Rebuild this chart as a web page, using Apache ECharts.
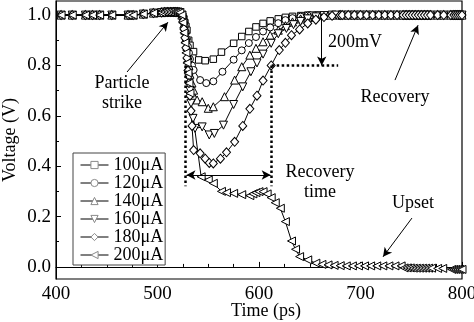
<!DOCTYPE html>
<html>
<head>
<meta charset="utf-8">
<script src="https://cdn.jsdelivr.net/npm/echarts@6/dist/echarts.min.js"></script>
<style>
html,body{margin:0;padding:0;background:#fff}
#chart{width:474px;height:322px}
</style>
</head>
<body>
<div id="chart"></div>
<script>
// Output voltage after a particle strike, for several injected currents.
const seriesNames = ['100μA', '120μA', '140μA', '160μA', '180μA', '200μA'];
const xTicks = [400, 500, 600, 700, 800];
const yTicks = [0.0, 0.2, 0.4, 0.6, 0.8, 1.0];
const yMinorTicks = [0.1, 0.3, 0.5, 0.7, 0.9];

// flat segment before the strike (same for every current)
const tPre = [405, 416, 429, 436, 443, 455, 471, 476, 486, 496, 504, 507, 510, 513, 516, 518, 520, 522];
const vPre = [1.0, 1.0, 1.0, 1.0, 1.0, 1.0, 1.0, 1.0, 1.004, 1.008, 1.01, 1.012, 1.012, 1.012, 1.012, 1.012, 1.012, 1.01];

// transients
const t100 = [524, 525, 526, 527, 528, 529, 530.7, 532, 535.5, 540.6, 547, 555, 563, 575, 583, 590, 597, 604, 611, 619, 626, 633, 641, 648];
const v100 = [1.0, 0.995, 0.985, 0.97, 0.955, 0.94, 0.90, 0.88, 0.855, 0.822, 0.819, 0.825, 0.853, 0.888, 0.915, 0.935, 0.953, 0.967, 0.977, 0.985, 0.991, 0.995, 0.998, 1.0];

const t120 = [524, 525, 526, 527, 528, 529, 530, 531, 532, 534, 535.6, 542, 548, 555, 564, 575, 583, 590, 597, 604, 611, 619, 626, 633, 641, 648, 656];
const v120 = [1.0, 0.99, 0.975, 0.955, 0.93, 0.905, 0.875, 0.85, 0.825, 0.80, 0.782, 0.742, 0.73, 0.737, 0.775, 0.823, 0.86, 0.889, 0.913, 0.935, 0.951, 0.968, 0.98, 0.988, 0.994, 0.998, 1.0];

const t140 = [524, 525, 526, 527, 528, 529, 530, 531, 532, 534, 535.6, 539, 544, 550, 555, 566, 576, 583, 591, 597, 604, 611, 619, 626, 633, 641, 648, 656, 664];
const v140 = [1.0, 0.985, 0.965, 0.94, 0.91, 0.875, 0.84, 0.80, 0.765, 0.73, 0.702, 0.663, 0.656, 0.63, 0.636, 0.676, 0.742, 0.795, 0.841, 0.868, 0.894, 0.92, 0.94, 0.958, 0.973, 0.985, 0.992, 0.997, 1.0];

const t160 = [524, 525, 526, 527, 528, 529, 530, 531, 532, 533, 535, 537, 544, 551, 556, 565, 575, 584, 592, 598, 604, 612, 619, 627, 634, 641, 648, 656, 664, 672];
const v160 = [1.0, 0.98, 0.955, 0.925, 0.89, 0.85, 0.80, 0.75, 0.70, 0.65, 0.59, 0.55, 0.556, 0.524, 0.53, 0.563, 0.645, 0.715, 0.775, 0.81, 0.845, 0.888, 0.926, 0.947, 0.962, 0.975, 0.985, 0.993, 0.998, 1.0];

const t180 = [524, 525, 526, 527, 528, 529, 530, 531, 532, 533, 534, 535.6, 542, 547, 551, 555, 562, 568, 576, 584, 591, 598, 604, 612, 620, 626, 632, 640, 648, 656, 664, 672, 680];
const v180 = [1.0, 0.975, 0.945, 0.91, 0.87, 0.83, 0.78, 0.73, 0.68, 0.62, 0.56, 0.464, 0.451, 0.43, 0.413, 0.411, 0.43, 0.455, 0.497, 0.56, 0.628, 0.68, 0.74, 0.80, 0.861, 0.89, 0.92, 0.943, 0.967, 0.982, 0.992, 0.997, 1.0];

const t200 = [524, 525, 526, 527, 528, 529, 530, 531, 532, 543, 550, 555, 563, 568, 575, 583, 591, 594, 597, 600, 604, 608, 612, 616, 621, 626, 632, 636, 640, 648, 656, 662, 668, 674, 680, 686, 692, 698, 704, 710, 716, 722, 728, 734, 740, 743, 746, 749, 752, 755, 758, 761, 764, 767, 770, 776, 781, 790, 792, 794, 796, 798, 800];
const v200 = [1.0, 0.97, 0.93, 0.89, 0.85, 0.81, 0.77, 0.73, 0.69, 0.358, 0.345, 0.332, 0.30, 0.295, 0.292, 0.287, 0.283, 0.29, 0.295, 0.299, 0.299, 0.29, 0.275, 0.255, 0.233, 0.18, 0.103, 0.07, 0.041, 0.028, 0.015, 0.01, 0.008, 0.006, 0.005, 0.004, 0.004, 0.004, 0.004, 0.004, 0.004, 0.004, 0.004, 0.004, 0.004, -0.004, -0.004, -0.004, -0.005, -0.005, -0.005, -0.005, -0.005, -0.005, -0.005, -0.006, -0.006, -0.01, -0.01, -0.01, -0.01, -0.01, -0.01];

// recovered level after the transient
const tTail = [652, 658, 664, 670, 676, 682, 688, 694, 700, 706, 712, 718, 724, 730, 736, 742, 745, 748, 751, 754, 757, 760, 763, 766, 769, 776, 782, 789, 792, 794, 796, 798, 800];
const vTail = [1.0, 1.0, 1.0, 1.0, 1.0, 1.0, 1.0, 1.0, 1.0, 1.0, 1.0, 1.0, 1.0, 1.0, 1.0, 1.0, 1.0, 1.0, 1.0, 1.0, 1.0, 1.0, 1.0, 1.0, 1.0, 1.0, 1.0, 1.0, 1.0, 1.0, 1.0, 1.0, 1.0];

const FONT = 'Liberation Serif';

function pairs(t, v) { return t.map((x, i) => [x, v[i]]); }

function buildData(t, v, withTail) {
  let d = pairs(tPre, vPre).concat(pairs(t, v));
  if (withTail) {
    const last = t[t.length - 1];
    d = d.concat(pairs(tTail, vTail).filter(p => p[0] > last));
  }
  return d;
}

function mkSeries(name, symbol, size, rotate, t, v, withTail) {
  return {
    name: name,
    type: 'line',
    data: buildData(t, v, withTail),
    symbol: symbol,
    symbolSize: size,
    symbolRotate: rotate,
    showSymbol: true,
    showAllSymbol: true,
    lineStyle: { color: '#000', width: 1 },
    itemStyle: { color: '#fff', borderColor: '#000', borderWidth: 1 },
    emphasis: { disabled: true },
    animation: false
  };
}

const series = [
  mkSeries(seriesNames[0], 'rect', 6.5, 0, t100, v100, true),
  mkSeries(seriesNames[1], 'circle', 7, 0, t120, v120, true),
  mkSeries(seriesNames[2], 'triangle', 8, 0, t140, v140, true),
  mkSeries(seriesNames[3], 'triangle', 8, 180, t160, v160, true),
  mkSeries(seriesNames[4], 'diamond', [8, 9], 0, t180, v180, true),
  mkSeries(seriesNames[5], 'triangle', 8, 90, t200, v200, false)
];

// annotation arrows and dotted guide lines
const arrowStyle = { color: '#000', width: 1, type: 'solid' };
const dotStyle = { color: '#000', width: 2.5, type: 'dotted' };
function arrow(a, b, both) {
  return [
    { coord: a, symbol: both ? 'arrow' : 'none', lineStyle: arrowStyle },
    { coord: b, symbol: 'arrow', lineStyle: arrowStyle }
  ];
}
function dotted(a, b) {
  return [
    { coord: a, symbol: 'none', lineStyle: dotStyle },
    { coord: b, symbol: 'none', lineStyle: dotStyle }
  ];
}
series[5].markLine = {
  silent: true,
  animation: false,
  symbolSize: [7, 9],
  label: { show: false },
  data: [
    dotted([527.4, 0.8], [527.4, 0.32]),
    dotted([612.5, 0.8], [612.5, 0.32]),
    dotted([612.5, 0.8], [678, 0.8]),
    arrow([470, 0.774], [510.3, 0.972]),
    arrow([734, 0.742], [756.7, 0.96]),
    arrow([750.7, 0.194], [722.2, 0.04]),
    arrow([661.8, 0.99], [661.8, 0.8]),
    arrow([528.5, 0.365], [611.5, 0.365], true)
  ]
};

function note(x, y, text) {
  return {
    coord: [x, y],
    label: { formatter: text }
  };
}
series[5].markPoint = {
  silent: true,
  animation: false,
  symbol: 'circle',
  symbolSize: 1,
  itemStyle: { color: 'rgba(0,0,0,0)' },
  label: {
    show: true,
    position: 'inside',
    color: '#000',
    fontFamily: FONT,
    fontSize: 18,
    lineHeight: 20,
    align: 'center',
    verticalAlign: 'middle'
  },
  data: [
    note(465, 0.688, 'Particle\nstrike'),
    note(694.6, 0.893, '200mV'),
    note(734, 0.675, 'Recovery'),
    note(660, 0.335, 'Recovery\ntime'),
    note(751.7, 0.254, 'Upset')
  ]
};

const chart = echarts.init(document.getElementById('chart'), null, { renderer: 'canvas' });
chart.setOption({
  animation: false,
  backgroundColor: '#fff',
  grid: {
    left: 56, right: 12, top: 1, bottom: 43,
    containLabel: false,
    outerBoundsMode: 'none',
    show: true, borderColor: '#000', borderWidth: 1.2, backgroundColor: 'transparent'
  },
  legend: {
    data: seriesNames,
    orient: 'vertical',
    left: 73,
    top: 153,
    itemWidth: 28,
    itemHeight: 9,
    itemGap: 0,
    padding: [3, 2, 1, 7],
    backgroundColor: '#fff',
    borderColor: '#444',
    borderWidth: 1,
    selectedMode: false,
    itemStyle: { color: '#fff', borderColor: '#8a8a8a', borderWidth: 1 },
    lineStyle: { color: '#000', width: 1 },
    textStyle: { fontFamily: FONT, fontSize: 18, lineHeight: 18, color: '#000' }
  },
  xAxis: {
    type: 'value',
    min: xTicks[0],
    max: xTicks[xTicks.length - 1],
    interval: 100,
    name: 'Time (ps)',
    nameLocation: 'middle',
    nameGap: 23,
    nameMoveOverlap: false,
    nameTextStyle: { fontFamily: FONT, fontSize: 18, color: '#000', padding: [0, 0, 0, 14] },
    axisLine: { lineStyle: { color: '#000', width: 1 } },
    axisTick: { inside: true, length: 5, lineStyle: { color: '#000' } },
    minorTick: { show: true, splitNumber: 4, length: 3, lineStyle: { color: '#000' } },
    splitLine: { show: false },
    axisLabel: { fontFamily: FONT, fontSize: 19, color: '#000', margin: 6 }
  },
  yAxis: [
    {
      type: 'value',
      min: -0.048,
      max: 1.056,
      name: 'Voltage (V)',
      nameLocation: 'middle',
      nameGap: 37,
      nameMoveOverlap: false,
      nameTextStyle: { fontFamily: FONT, fontSize: 18, color: '#000' },
      axisLine: { show: true, lineStyle: { color: '#000', width: 1 } },
      axisTick: { show: true, inside: true, length: 5, customValues: yTicks, lineStyle: { color: '#000' } },
      splitLine: { show: false },
      axisLabel: {
        fontFamily: FONT, fontSize: 19, color: '#000', margin: 5,
        customValues: yTicks,
        formatter: v => v.toFixed(1)
      }
    },
    {
      type: 'value',
      min: -0.048,
      max: 1.056,
      position: 'left',
      axisLine: { show: false },
      axisTick: { show: true, inside: true, length: 3, customValues: yMinorTicks, lineStyle: { color: '#000' } },
      axisLabel: { show: false },
      splitLine: { show: false }
    }
  ],
  series: series
});
</script>
</body>
</html>
